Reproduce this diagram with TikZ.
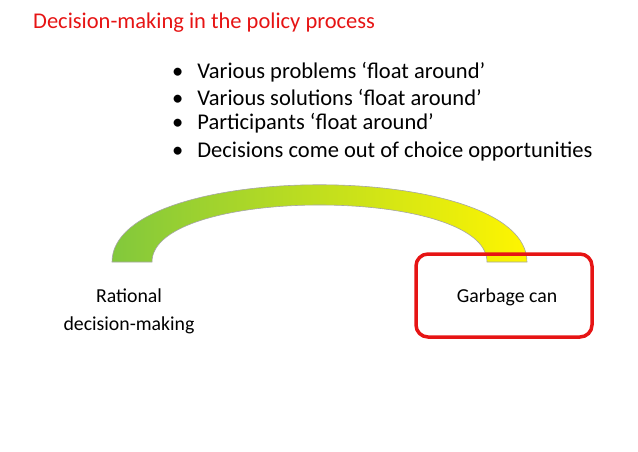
\documentclass[tikz,border=0pt]{standalone}
\usepackage{fontspec}
\setmainfont{Carlito}
\begin{document}
\begin{tikzpicture}[x=1pt,y=-1pt,
  lbl/.style={inner sep=0pt,anchor=west,font=\fontsize{19.8}{24}\selectfont},
  bul/.style={inner sep=0pt,anchor=west,font=\fontsize{22.5}{26}\selectfont}]
\definecolor{tred}{RGB}{230,20,20}
\definecolor{agreen}{RGB}{130,200,60}
\definecolor{ayellow}{RGB}{255,245,0}
\useasboundingbox (0,0) rectangle (638,451);
\node[lbl,text=tred,font=\fontsize{22.5}{26}\selectfont] (title) at (33,23) {Decision-making in the policy process};
\node[bul] (b1) at (172,72) {\textbullet\hspace{14pt}Various problems ‘float around’};
\node[bul] (b2) at (172,97) {\textbullet\hspace{14pt}Various solutions ‘float around’};
\node[bul] (b3) at (172,123) {\textbullet\hspace{14pt}Participants ‘float around’};
\node[bul] (b4) at (172,151) {\textbullet\hspace{14pt}Decisions come out of choice opportunities};
\shade[left color=agreen,right color=ayellow,draw=gray!70,line width=0.6pt]
  (112,262) .. controls (112,159) and (527,159) .. (527,262) -- (487,262)
  .. controls (487,186) and (152,186) .. (152,262) -- cycle;
\node[draw=tred,line width=3.5pt,rounded corners=12pt,minimum width=176pt,minimum height=83pt] (gc) at (504,295.5) {};
\node[lbl,anchor=center] (g) at (507,297) {Garbage can};
\node[lbl,anchor=center,align=center,font=\fontsize{19.8}{28}\selectfont] (r) at (129,311) {Rational\\decision-making};
\end{tikzpicture}
\end{document}
